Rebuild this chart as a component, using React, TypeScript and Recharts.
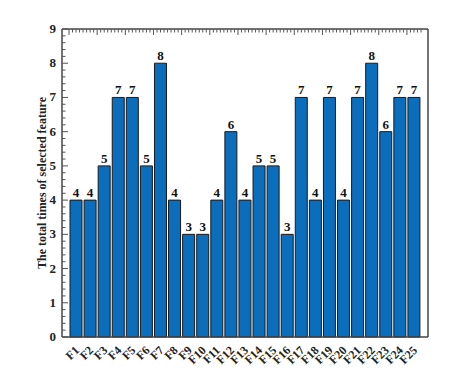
import { BarChart, Bar, XAxis, YAxis, LabelList } from 'recharts';

const features = [
  'F1', 'F2', 'F3', 'F4', 'F5', 'F6', 'F7', 'F8', 'F9', 'F10', 'F11', 'F12', 'F13',
  'F14', 'F15', 'F16', 'F17', 'F18', 'F19', 'F20', 'F21', 'F22', 'F23', 'F24', 'F25',
];
const counts = [4, 4, 5, 7, 7, 5, 8, 4, 3, 3, 4, 6, 4, 5, 5, 3, 7, 4, 7, 4, 7, 8, 6, 7, 7];

const data = features.map((name, i) => ({ name, count: counts[i] }));

// minor ticks every 0.2 on the y axes
const yTicks: number[] = [];
for (let i = 0; i <= 45; i++) yTicks.push(Math.round(i * 2) / 10);

const PLOT_LEFT = 62;
const PLOT_RIGHT = 428;
const PLOT_TOP = 29;
const FONT = "'Liberation Serif', 'DejaVu Serif', serif";
const TICK_COLOR = '#555';
const textStyle = { fontFamily: FONT, fontWeight: 700 } as const;

const isMajor = (v: number) => Math.abs(v - Math.round(v)) < 1e-6;

function LeftTick(props: any) {
  const { y, payload } = props;
  const v = payload.value;
  const major = isMajor(v);
  return (
    <g>
      <line x1={PLOT_LEFT} x2={PLOT_LEFT + (major ? 6 : 3.5)} y1={y} y2={y} stroke={TICK_COLOR} strokeWidth={1} />
      {major && (
        <text x={PLOT_LEFT - 6} y={y} dy={4} textAnchor="end" style={{ ...textStyle, fontSize: 13 }} fill="#222">
          {v}
        </text>
      )}
    </g>
  );
}

function RightTick(props: any) {
  const { y, payload } = props;
  const major = isMajor(payload.value);
  return <line x1={PLOT_RIGHT} x2={PLOT_RIGHT - (major ? 6 : 3.5)} y1={y} y2={y} stroke={TICK_COLOR} strokeWidth={1} />;
}

// top axis: one tick per category plus small minor ticks across the band
function TopTick(props: any) {
  const { x, index } = props;
  const step = 3.52;
  const offs = [-2, -1, 0, 1];
  if (index === features.length - 1) offs.push(2);
  return (
    <g>
      {offs.map((k) => (
        <line
          key={k}
          x1={x + k * step}
          x2={x + k * step}
          y1={PLOT_TOP}
          y2={PLOT_TOP + (k === -2 && index % 2 === 0 ? 6 : 3.5)}
          stroke={TICK_COLOR}
          strokeWidth={1}
        />
      ))}
    </g>
  );
}

function BottomTick(props: any) {
  const { x, y, payload } = props;
  return (
    <text
      x={x + 4}
      y={y + 6}
      transform={`rotate(-45, ${x + 4}, ${y + 6})`}
      textAnchor="end"
      style={{ ...textStyle, fontSize: 12 }}
      fill="#222"
    >
      {payload.value}
    </text>
  );
}

export default function App() {
  return (
    <div style={{ position: 'absolute', left: 0, top: 0, background: '#fff' }}>
      <BarChart
        width={474}
        height={379}
        data={data}
        margin={{ top: PLOT_TOP - 1, right: 36, bottom: 2, left: 12 }}
        barSize={12}
      >
        <XAxis
          dataKey="name"
          xAxisId="bottom"
          interval={0}
          height={40}
          padding={{ left: 7, right: 7 }}
          tickLine={false}
          axisLine={{ stroke: '#444', strokeWidth: 1.5 }}
          tick={<BottomTick />}
        />
        <XAxis
          dataKey="name"
          xAxisId="top"
          orientation="top"
          interval={0}
          height={1}
          padding={{ left: 7, right: 7 }}
          tickLine={false}
          axisLine={{ stroke: '#444', strokeWidth: 1.5 }}
          tick={<TopTick />}
        />
        <YAxis
          yAxisId="left"
          domain={[0, 9]}
          ticks={yTicks}
          interval={0}
          width={50}
          tickLine={false}
          axisLine={{ stroke: '#444', strokeWidth: 1.5 }}
          tick={<LeftTick />}
          label={{
            value: 'The total times of selected feature',
            angle: -90,
            position: 'center',
            dx: 5,
            style: { ...textStyle, fontSize: 12, fill: '#222' },
          }}
        />
        <YAxis
          yAxisId="right"
          orientation="right"
          domain={[0, 9]}
          ticks={yTicks}
          interval={0}
          width={10}
          tickLine={false}
          axisLine={{ stroke: '#444', strokeWidth: 1.5 }}
          tick={<RightTick />}
        />
        <Bar
          dataKey="count"
          xAxisId="bottom"
          yAxisId="left"
          fill="#0a6ebd"
          stroke="#1a1a1a"
          strokeWidth={1}
          isAnimationActive={false}
        >
          <LabelList
            dataKey="count"
            position="top"
            offset={3}
            style={{ ...textStyle, fontSize: 13, fill: '#111' }}
          />
        </Bar>
      </BarChart>
    </div>
  );
}
